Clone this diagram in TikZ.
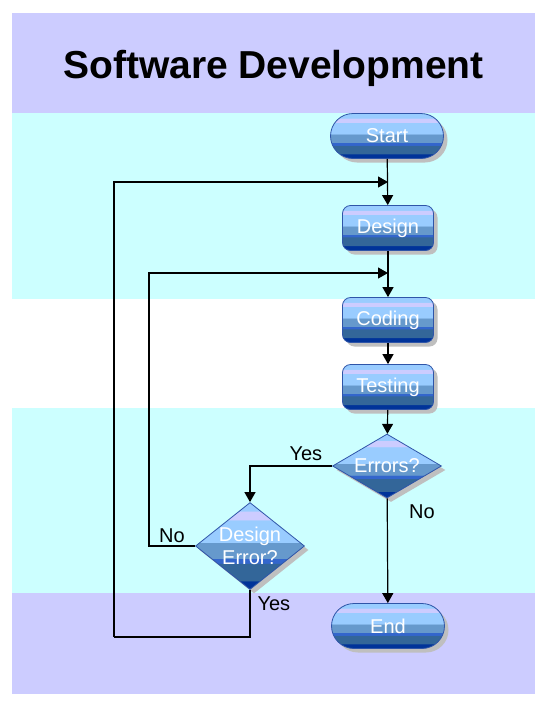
\documentclass[tikz,border=0pt]{standalone}
\usepackage{fontspec}
\setmainfont{Liberation Sans}
\usetikzlibrary{arrows.meta}
\usetikzlibrary{shapes.geometric}
\usetikzlibrary{shapes.misc}
\usetikzlibrary{shadows}

\definecolor{bandlilac}{HTML}{CCCCFF}
\definecolor{bandcyan}{HTML}{CCFFFF}
\definecolor{gdeep}{HTML}{003399}
\definecolor{gsteel}{HTML}{336699}
\definecolor{gblue}{HTML}{3366CC}
\definecolor{gmid}{HTML}{6699CC}
\definecolor{glight}{HTML}{99CCFF}
\definecolor{gpale}{HTML}{CCCCFF}
\definecolor{gedge}{HTML}{2F55A8}

\pgfdeclareverticalshading{gloss}{100bp}{color(0bp)=(gdeep); color(30bp)=(gdeep); color(30bp)=(gsteel); color(40bp)=(gsteel); color(40bp)=(gblue); color(43bp)=(gblue); color(43bp)=(gmid); color(52bp)=(gmid); color(52bp)=(glight); color(65bp)=(glight); color(65bp)=(gpale); color(70bp)=(gpale); color(70bp)=(glight); color(100bp)=(glight)}

\begin{document}
\begin{tikzpicture}[
			     x=1pt, y=-1pt,
			     font=\fontsize{20}{23}\selectfont,
			     glossy/.style={shade, shading=gloss, draw=gedge, line width=0.8pt, text=white,
			       drop shadow={shadow xshift=4pt, shadow yshift=-4pt, fill=black!25, opacity=1}},
			     terminal/.style={glossy, rounded rectangle, minimum width=113pt, minimum height=45pt, inner sep=0pt},
			     process/.style={glossy, rectangle, rounded corners=8pt, minimum width=91pt, minimum height=45pt, inner sep=0pt},
			     decision/.style={glossy, diamond, aspect=1.5, inner sep=0pt, align=center},
			     flow line/.style={line width=1.2pt, -{Triangle[length=10pt,width=11pt]}},
			     plain line/.style={line width=1.2pt}
			     ]
\useasboundingbox (0,0) rectangle (546,705);
% bands
\fill[bandlilac] (12,12.5) rectangle (535,113);
\fill[bandcyan] (12,113) rectangle (535,299);
\fill[bandcyan] (12,408) rectangle (535,593);
\fill[bandlilac] (12,593) rectangle (535,694);
\node[font=\bfseries\fontsize{39}{44}\selectfont, anchor=base] (title) at (273.5,78) {Software Development};

\node[terminal] (start) at (387,136) {Start};
\node[process] (design) at (388,228) {Design};
\node[process] (coding) at (388,320) {Coding};
\node[process] (testing) at (388,387) {Testing};
\node[decision, minimum width=109pt, minimum height=64pt] (errors) at (387,466) {Errors?};
\node[decision, aspect=1.25, inner sep=-2pt, minimum width=109pt, minimum height=87pt] (deserr) at (250,546) {Design\\Error?};
\node[terminal] (end) at (388,626) {End};

\coordinate (join1) at (388,182);
\coordinate (join2) at (388,273);
\coordinate (loop1) at (114,637);
\coordinate (loop2) at (149,273);

\draw[flow line] (start) -- (design);
\draw[flow line] (design) -- (coding);
\draw[flow line] (coding) -- (testing);
\draw[flow line] (testing) -- (errors);
\draw[flow line] (errors) -- node[pos=0.13, right=18pt] {No} (end);
\draw[flow line] (errors.west) -| node[pos=0.16, above=1pt] {Yes} (deserr.north);
\draw[plain line] (deserr.south) |- (loop1);
\draw[flow line] (loop1) |- (join1);
\draw[flow line] (deserr.west) -| (loop2) -- (join2);
\node[anchor=south] (nolabel) at (172,546) {No};
\node[anchor=west] (yeslabel) at (254,604) {Yes};
\end{tikzpicture}
\end{document}
